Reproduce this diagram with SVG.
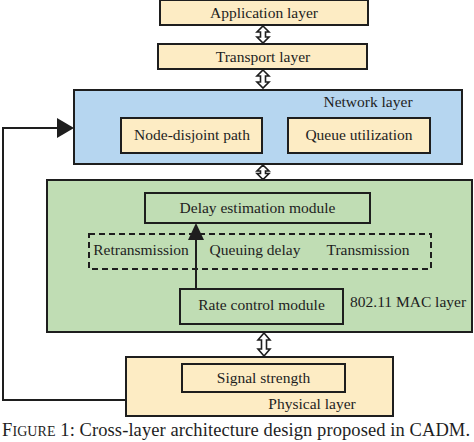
<svg xmlns="http://www.w3.org/2000/svg" width="474" height="442" viewBox="0 0 474 442">
<style>
.box{stroke:#1e1e1e;stroke-width:2}
.y{fill:#fdecc4}
.b{fill:#b6d6f0}
.g{fill:#c0ddb4}
.t{font-family:"Liberation Serif",serif;font-size:15.5px;fill:#1e1e1e}
.m{text-anchor:middle}
.dbl{fill:#fff;stroke:#1e1e1e;stroke-width:1.6;stroke-linejoin:miter}
.line{fill:none;stroke:#1e1e1e;stroke-width:2}
</style>
<rect width="474" height="442" fill="#fff"/>
<g id="application">
<rect class="box y" x="160" y="0" width="208" height="25"/>
<text class="t m" x="264" y="18">Application layer</text>
</g>
<g id="transport">
<rect class="box y" x="158" y="44" width="209" height="25"/>
<text class="t m" x="263" y="62">Transport layer</text>
</g>
<g id="network">
<rect class="box b" x="74" y="90" width="388" height="74"/>
<text class="t m" x="368" y="107">Network layer</text>
</g>
<g id="node-disjoint">
<rect class="box y" x="121" y="118" width="141" height="35"/>
<text class="t m" x="192" y="140">Node-disjoint path</text>
</g>
<g id="queue-utilization">
<rect class="box y" x="288" y="118" width="142" height="35"/>
<text class="t m" x="359" y="140">Queue utilization</text>
</g>
<g id="mac">
<rect class="box g" x="47" y="180" width="425" height="152"/>
<text class="t" x="350" y="307">802.11 MAC layer</text>
</g>
<g id="delay-estimation">
<rect class="box g" x="145" y="193" width="225" height="30"/>
<text class="t m" x="257.5" y="213">Delay estimation module</text>
</g>
<g id="delay-components">
<rect x="89" y="234" width="342" height="35" fill="none" stroke="#1e1e1e" stroke-width="2" stroke-dasharray="6,4"/>
<text class="t m" x="141" y="255">Retransmission</text>
<text class="t m" x="255" y="255">Queuing delay</text>
<text class="t m" x="368" y="255">Transmission</text>
</g>
<g id="rate-control">
<rect class="box g" x="180" y="289" width="163" height="35"/>
<text class="t m" x="261.5" y="310">Rate control module</text>
</g>
<g id="physical">
<rect class="box y" x="126" y="357" width="267" height="59"/>
<text class="t m" x="312" y="409">Physical layer</text>
</g>
<g id="signal-strength">
<rect class="box y" x="182" y="364" width="163" height="28"/>
<text class="t m" x="263.5" y="383">Signal strength</text>
</g>
<g id="connectors">
<path class="dbl" d="M263,26 L269,32 L265.5,32 L265.5,37 L269,37 L263,43 L257,37 L260.5,37 L260.5,32 L257,32 Z"/>
<path class="dbl" d="M263,70 L269,76 L265.5,76 L265.5,82 L269,82 L263,88 L257,82 L260.5,82 L260.5,76 L257,76 Z"/>
<path class="dbl" d="M263,165 L269,171 L265.5,171 L265.5,173.5 L269,173.5 L263,179.5 L257,173.5 L260.5,173.5 L260.5,171 L257,171 Z"/>
<path class="dbl" d="M264,333 L270,340 L266.5,340 L266.5,349 L270,349 L264,356 L258,349 L261.5,349 L261.5,340 L258,340 Z"/>
<line class="line" x1="196" y1="289" x2="196" y2="238"/>
<polygon points="196,223 204,240 188,240" fill="#1e1e1e"/>
<path class="line" d="M126,400 L3,400 L3,128 L58,128"/>
<polygon points="74,128 57,118 57,138" fill="#1e1e1e"/>
</g>
<text font-family="Liberation Serif,serif" font-size="18.5" fill="#1e1e1e" x="2" y="436" textLength="468" lengthAdjust="spacing">F<tspan font-size="14">IGURE</tspan> 1: Cross-layer architecture design proposed in CADM.</text>
</svg>
